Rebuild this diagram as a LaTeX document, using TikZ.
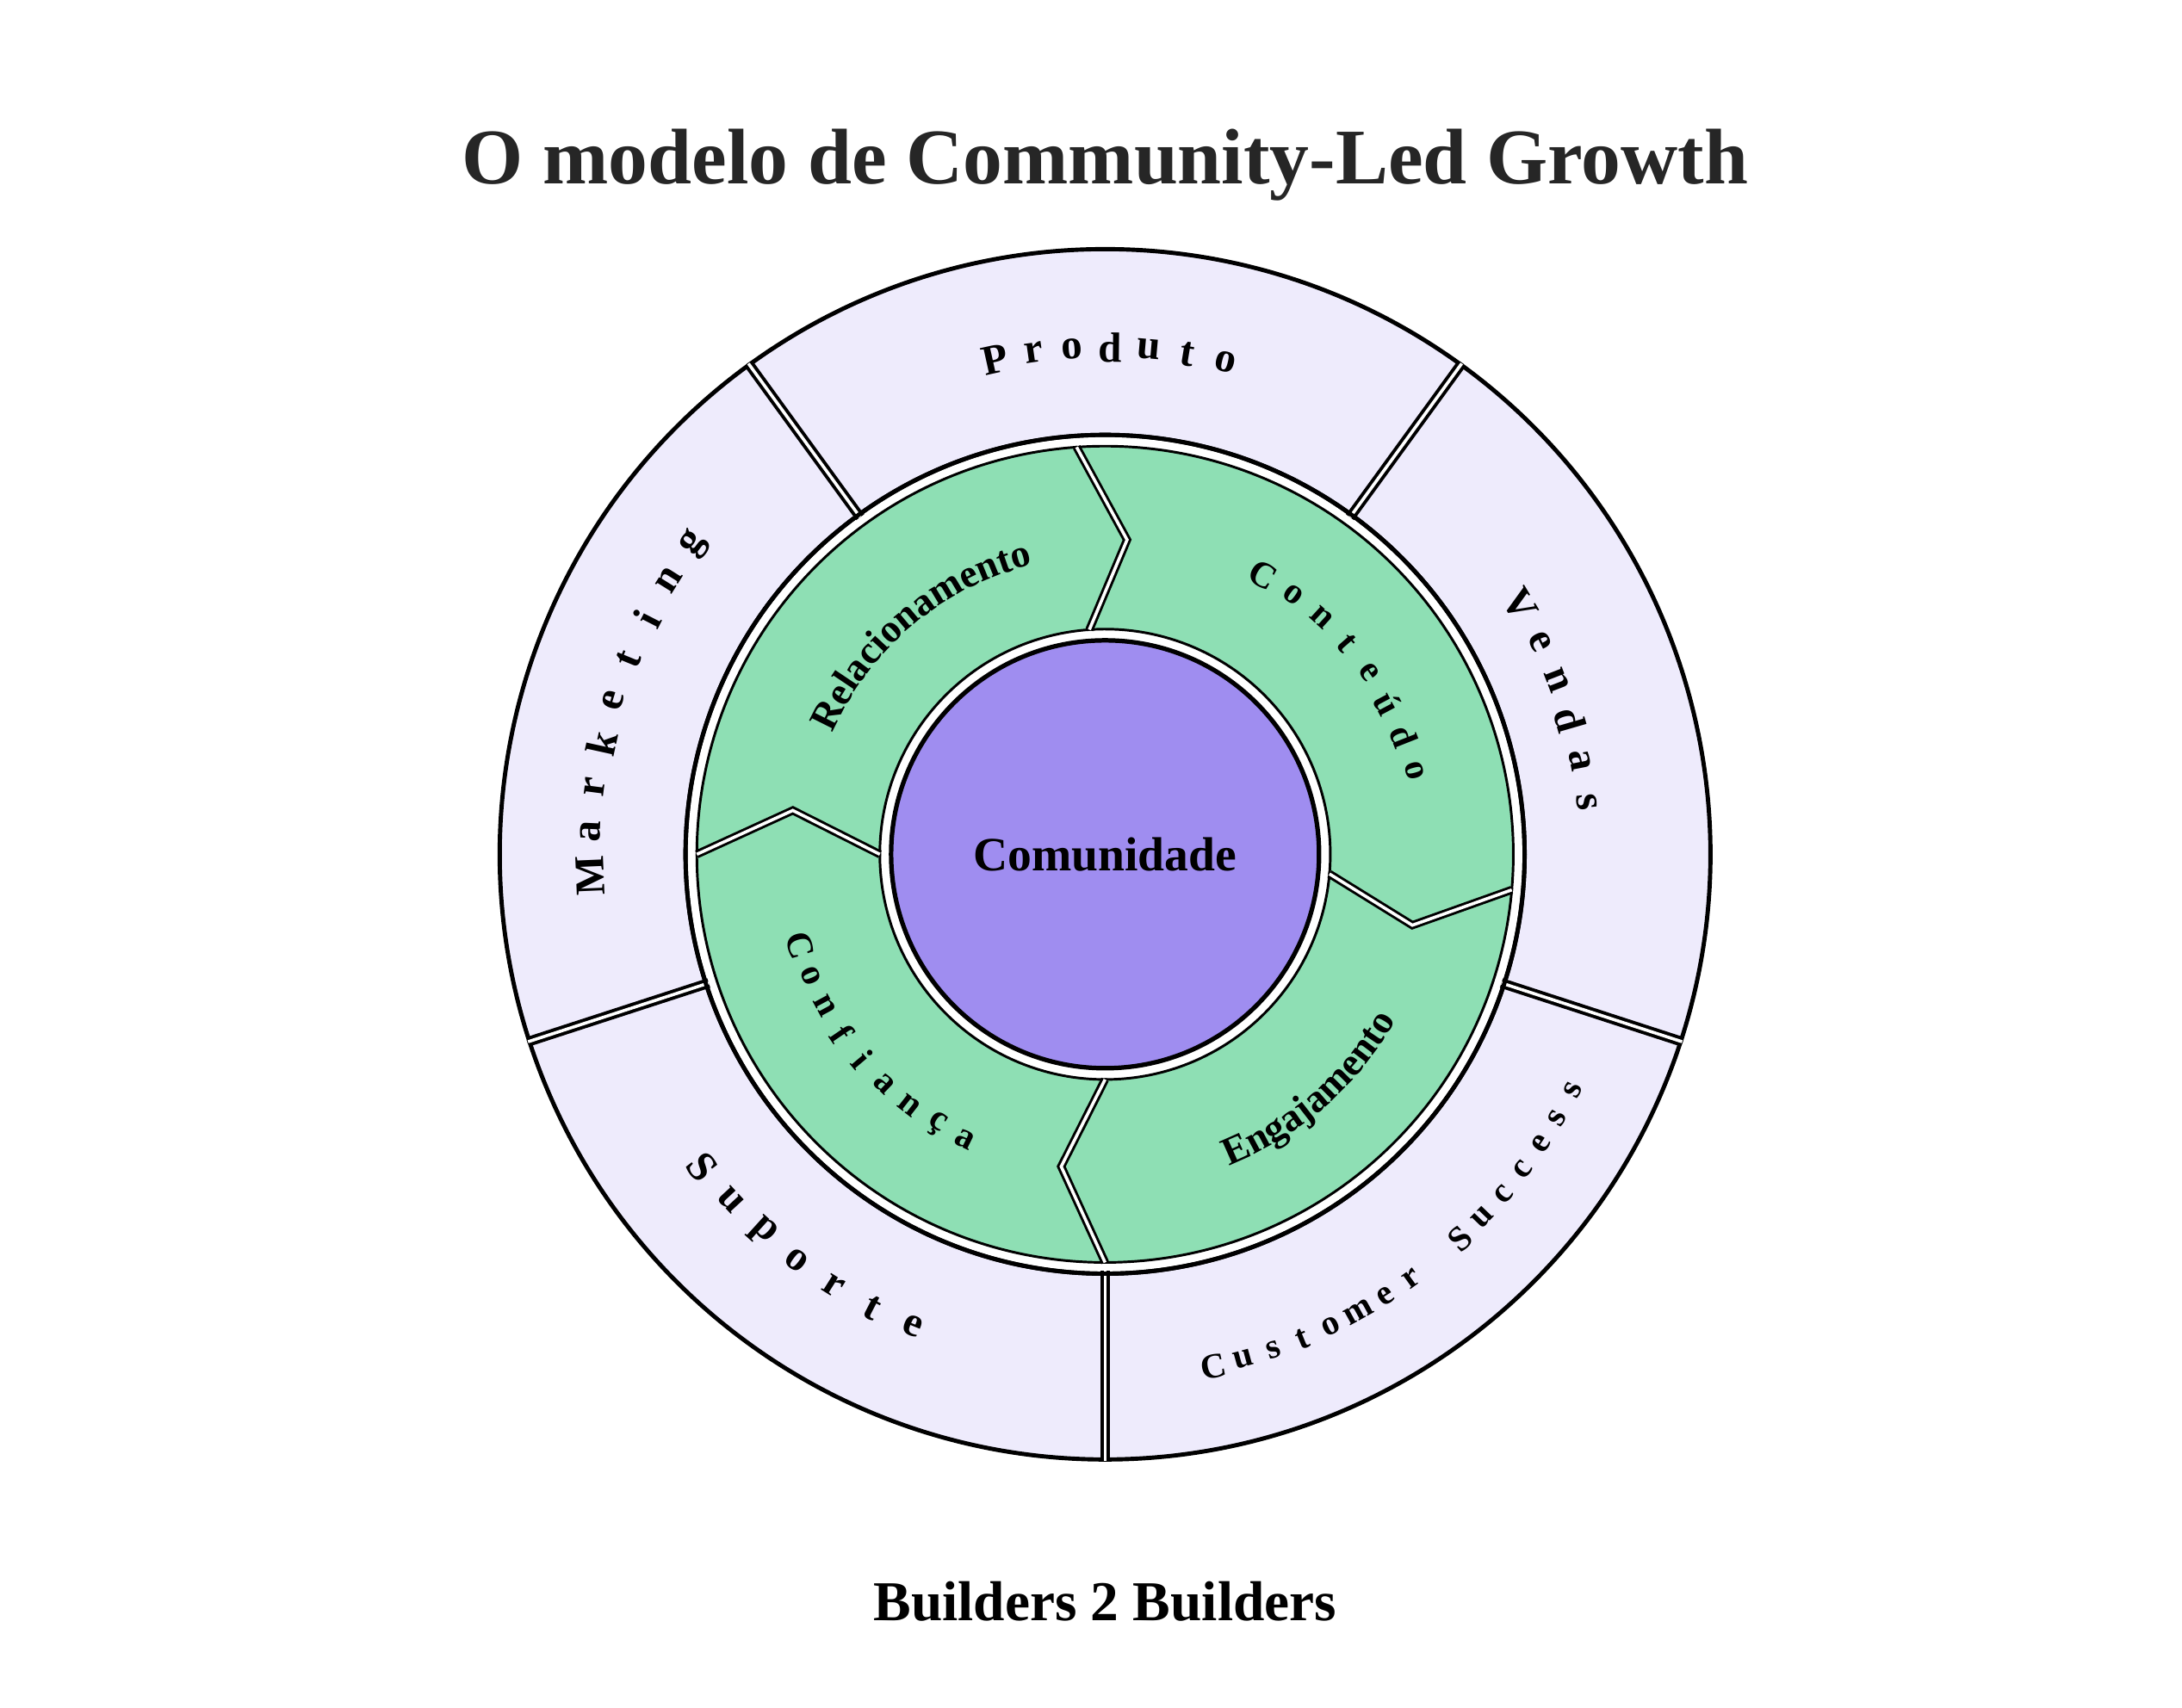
\documentclass[tikz,border=0pt]{standalone}
\usepackage{fontspec}
\setmainfont{Liberation Serif}
\usetikzlibrary{decorations.text}
\definecolor{gr}{HTML}{8EDFB4}
\definecolor{pu}{HTML}{9F8DF0}
\definecolor{lav}{HTML}{EEEBFC}
\definecolor{ttl}{HTML}{262626}
\tikzset{
 piece/.style={fill=gr,draw=black,line width=0.9pt},
 seg/.style={fill=lav,draw=black,line width=1.5pt},
 dbl/.style={draw=black,line width=1.2pt,double=white,double distance=1.1pt},
 lbl/.style={font=\bfseries\fontsize{15}{15}\selectfont,inner sep=0pt},
 slbl/.style={font=\bfseries\fontsize{12.5}{12.5}\selectfont,inner sep=0pt},
 glbl/.style={font=\bfseries\fontsize{13}{13}\selectfont,inner sep=0pt}
}
\newcommand{\arcletters}[6]{% radius, start, step, rotoffset, style, list
 \foreach \ch [count=\i] in {#6}{
  \pgfmathsetmacro{\ang}{#2+(\i-1)*(#3)}
  \node[#5,rotate=\ang+#4] at (\ang:#1pt) {\ch};
 }}
\begin{document}
\begin{tikzpicture}[x=1pt,y=1pt]
\useasboundingbox[fill=white] (-392.5,303.5) rectangle (382.5,-303.25);
% outer ring segments
\foreach \a in {270,342,54,126,198}{
 \draw[seg] (\a:149) arc[start angle=\a,end angle=\a+72,radius=149] -- (\a+72:215) arc[start angle=\a+72,end angle=\a,radius=215] -- cycle;
}
\foreach \a in {270,342,54,126,198}{
 \draw[dbl] (\a:148) -- (\a:215.5);
}
\draw[line width=1.5pt] (0,0) circle (149);
% green pieces
\draw[piece] (94:145) arc[start angle=94,end angle=-5,radius=145] -- (-13:112) -- (-5:80) arc[start angle=-5,end angle=94,radius=80] -- (86:112) -- cycle;
\draw[piece] (-5:145) arc[start angle=-5,end angle=-90,radius=145] -- (-98:112) -- (-90:80) arc[start angle=-90,end angle=-5,radius=80] -- (-13:112) -- cycle;
\draw[piece] (-90:145) arc[start angle=-90,end angle=-180,radius=145] -- (-188:112) -- (-180:80) arc[start angle=-180,end angle=-90,radius=80] -- (-98:112) -- cycle;
\draw[piece] (180:145) arc[start angle=180,end angle=94,radius=145] -- (86:112) -- (94:80) arc[start angle=94,end angle=180,radius=80] -- (172:112) -- cycle;
\draw[dbl,line width=0.9pt] (94:145) -- (86:112) -- (94:80);
\draw[dbl,line width=0.9pt] (-5:145) -- (-13:112) -- (-5:80);
\draw[dbl,line width=0.9pt] (-90:145) -- (-98:112) -- (-90:80);
\draw[dbl,line width=0.9pt] (180:145) -- (172:112) -- (180:80);
% center
\node[circle,fill=pu,draw=black,line width=1.6pt,minimum size=152pt,inner sep=0pt,font=\bfseries\fontsize{17}{17}\selectfont] (com) at (0,0) {Comunidade};
% outer labels
\arcletters{180}{102.5}{-4.37}{-90}{lbl}{P,r,o,d,u,t,o}
\arcletters{183}{182.4}{-4.93}{-90}{lbl}{M,a,r,k,e,t,i,n,g}
\arcletters{172}{31}{-4.96}{-90}{lbl}{V,e,n,d,a,s}
\arcletters{181}{217.8}{5.0}{90}{lbl}{S,u,p,o,r,t,e}
\arcletters{186}{281.9}{3.42}{90}{slbl}{C,u,s,t,o,m,e,r,{},S,u,c,c,e,s,s}
% green labels
\arcletters{114}{60.6}{-6.5}{-90}{glbl}{C,o,n,t,e,ú,d,o}
\arcletters{113}{196.6}{5.9}{90}{glbl}{C,o,n,f,i,a,n,ç,a}
\path[decorate,decoration={text along path,text align=center,text={|\bfseries\fontsize{14}{14}\selectfont|Relacionamento}}] (168:106) arc[start angle=168,end angle=92,radius=106];
\path[decorate,decoration={text along path,text align=center,text={|\bfseries\fontsize{14}{14}\selectfont|Engajamento}}] (278:119) arc[start angle=278,end angle=344,radius=119];
% title and footer
\node[font=\bfseries\fontsize{28}{28}\selectfont,text=ttl] (title) at (0,245) {O modelo de Community-Led Growth};
\node[font=\bfseries\fontsize{20}{20}\selectfont] (foot) at (0,-265.5) {Builders 2 Builders};
\end{tikzpicture}
\end{document}
